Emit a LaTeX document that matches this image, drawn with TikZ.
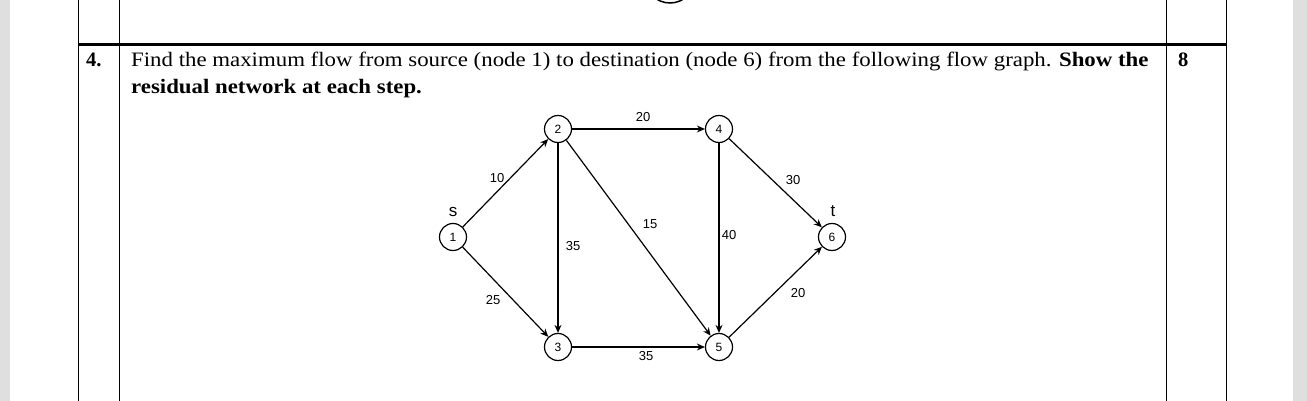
\documentclass[tikz,border=0pt]{standalone}
\usepackage{fontspec}
\usepackage{graphicx}
\usetikzlibrary{arrows.meta}
\setmainfont{Liberation Serif}
\newfontfamily\sansf{Liberation Sans}
\begin{document}
\begin{tikzpicture}[x=1pt,y=-1pt,
  vert/.style={circle,draw,line width=1.2pt,minimum size=27pt,inner sep=0pt,font=\sansf\fontsize{12}{12}\selectfont},
  lbl/.style={font=\sansf\fontsize{13}{13}\selectfont,inner sep=1pt},
  edge/.style={line width=1.2pt,-{Stealth[length=8pt,width=7pt]}},
  txt/.style={anchor=base west,inner sep=0pt,font=\fontsize{20.5}{25}\selectfont}]
\useasboundingbox (0,0) rectangle (1307,401);
\fill[gray!25] (0,0) rectangle (10,401);
\fill[gray!25] (1293,0) rectangle (1307,401);
\draw[line width=1.5pt] (670,-22) circle (25);
\draw[line width=1pt] (78,0) -- (78,401) (119,0) -- (119,401) (1166,0) -- (1166,401) (1226,0) -- (1226,401);
\draw[line width=3pt] (78,45) -- (1226,45);
\node[txt] (n) at (86,67) {\bfseries 4.};
\node[txt] (l1) at (131,67) {\scalebox{1.114}[1]{Find the maximum flow from source (node 1) to destination (node 6) from the following flow graph. \textbf{Show the}}};
\node[txt] (l2) at (131,94) {\scalebox{1.114}[1]{\bfseries residual network at each step.}};
\node[txt] (m) at (1178,67) {\bfseries 8};
\node[vert] (v1) at (453,237) {1};
\node[vert] (v2) at (558,129) {2};
\node[vert] (v3) at (558,347) {3};
\node[vert] (v4) at (719,129) {4};
\node[vert] (v5) at (719,347) {5};
\node[vert] (v6) at (832,237) {6};
\node[lbl,font=\sansf\fontsize{17}{17}\selectfont] (s) at (453,212) {s};
\node[lbl,font=\sansf\fontsize{17}{17}\selectfont] (t) at (833,211) {t};
\draw[edge] (v1) -- (v2);
\draw[edge] (v1) -- (v3);
\draw[edge] (v2) -- (v4);
\draw[edge] (v2) -- (v3);
\draw[edge] (v2) -- (v5);
\draw[edge] (v4) -- (v5);
\draw[edge] (v4) -- (v6);
\draw[edge] (v3) -- (v5);
\draw[edge] (v5) -- (v6);
\node[lbl] (a) at (497,178) {10};
\node[lbl] (b) at (493,300) {25};
\node[lbl] (c) at (643,117) {20};
\node[lbl] (d) at (573,246) {35};
\node[lbl] (e) at (650,224) {15};
\node[lbl] (f) at (729,235) {40};
\node[lbl] (g) at (793,180) {30};
\node[lbl] (h) at (798,293) {20};
\node[lbl] (i) at (646,356) {35};
\end{tikzpicture}
\end{document}
